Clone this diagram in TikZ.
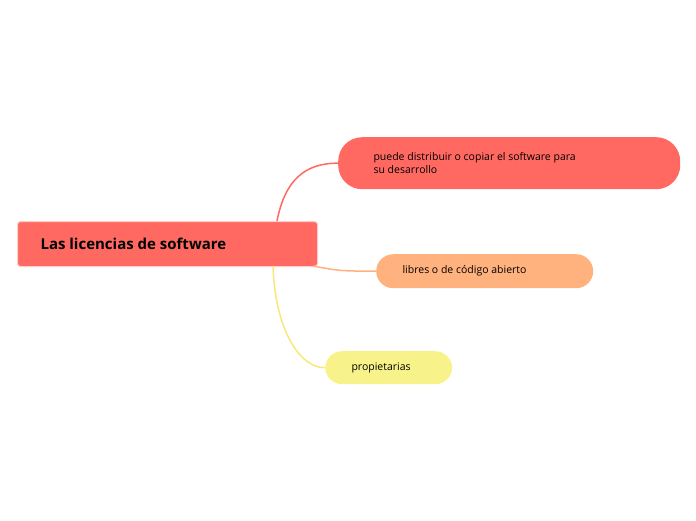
\documentclass[tikz,border=0pt]{standalone}
\usepackage{fontspec}
\setmainfont{Open Sans}
\definecolor{cred}{HTML}{FF6961}
\definecolor{corange}{HTML}{FFB27E}
\definecolor{cyellow}{HTML}{F8F28A}
\begin{document}
\begin{tikzpicture}[x=1pt,y=-1pt,
  pill/.style={rounded corners=17pt,anchor=north west,inner sep=0pt},
  txt/.style={font=\fontsize{10.5}{13}\selectfont,anchor=west,align=left}]
\useasboundingbox (0,0) rectangle (696,520);
\node[pill,fill=cred,minimum width=342,minimum height=52,rounded corners=24pt] (n1) at (338,137) {};
\node[txt] at (370,163) {puede distribuir o copiar el software para\\su desarrollo};
\node[pill,fill=corange,minimum width=217,minimum height=34] (n2) at (376,254) {};
\node[txt] at (399,271) {libres o de código abierto};
\node[pill,fill=cyellow,minimum width=127,minimum height=33] (n3) at (325,351) {};
\node[txt] at (348,368) {propietarias};
\node[anchor=north west,fill=cred,draw=red!20,line width=1pt,rounded corners=3pt,minimum width=300,minimum height=45,inner sep=0pt] (m) at (17,221) {};
\node[anchor=west,font=\bfseries\fontsize{15}{18}\selectfont] at (37,244) {Las licencias de software};
\draw[cred,line width=1.5pt] (277,221) .. controls (285,180) and (305,163) .. (n1.west);
\draw[corange,line width=1.5pt] (313,266) .. controls (340,271) .. (n2.west);
\draw[cyellow!90!orange,line width=1.5pt] (273,266) .. controls (275,330) and (300,368) .. (n3.west);
\end{tikzpicture}
\end{document}
